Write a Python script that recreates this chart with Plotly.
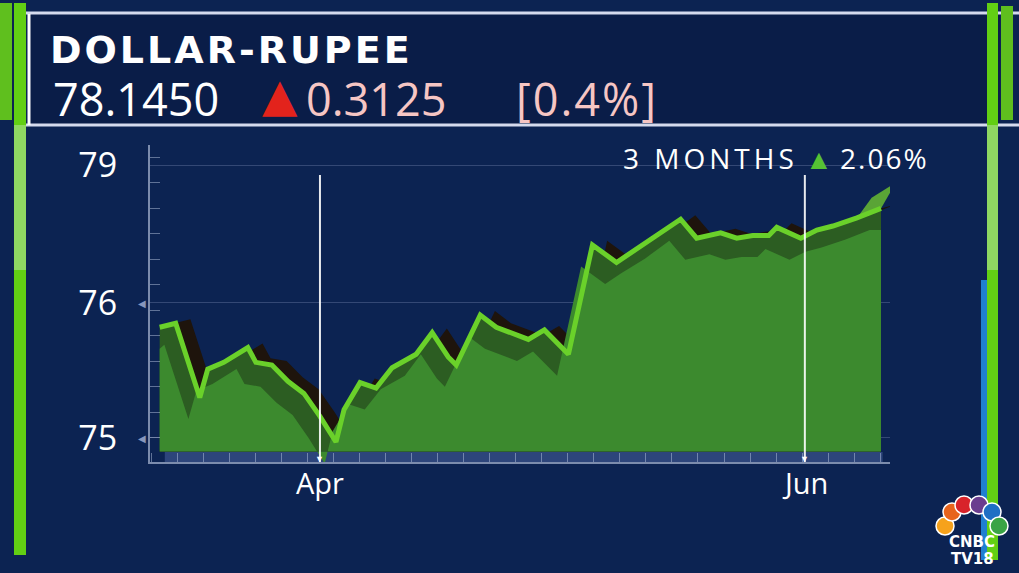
import pandas as pd
import plotly.graph_objects as go

# ---------------------------------------------------------------------------
# Data (read off the broadcast graphic)
# ---------------------------------------------------------------------------
dates = [
    "2022-03-12", "2022-03-14", "2022-03-17", "2022-03-18", "2022-03-20",
    "2022-03-23", "2022-03-24", "2022-03-26", "2022-03-28", "2022-03-30",
    "2022-04-01", "2022-04-03", "2022-04-04", "2022-04-06", "2022-04-08",
    "2022-04-10", "2022-04-13", "2022-04-15", "2022-04-17", "2022-04-18",
    "2022-04-21", "2022-04-23", "2022-04-27", "2022-04-29", "2022-05-02",
    "2022-05-05", "2022-05-08", "2022-05-10", "2022-05-13", "2022-05-16",
    "2022-05-18", "2022-05-21", "2022-05-23", "2022-05-25", "2022-05-27",
    "2022-05-28", "2022-05-31", "2022-06-02", "2022-06-04", "2022-06-07",
    "2022-06-10",
]
rate = [
    75.82, 75.85, 75.30, 75.51, 75.56,
    75.67, 75.56, 75.54, 75.42, 75.33,
    75.16, 74.97, 75.21, 75.41, 75.37,
    75.52, 75.62, 75.78, 75.60, 75.54,
    75.91, 75.82, 75.73, 75.80, 75.62,
    76.43, 76.30, 76.38, 76.49, 76.62,
    76.48, 76.52, 76.48, 76.50, 76.50,
    76.56, 76.48, 76.54, 76.57, 76.63,
    76.70,
]

# axis labels as printed on screen (the graphic's scale is not linear)
y_tickvals = [75, 76, 77.02]
y_ticktext = ["75", "76", "79"]
x_tickvals = ["2022-04-01", "2022-05-31 12:00"]
x_ticktext = ["Apr", "Jun"]

title = "DOLLAR-RUPEE"
last_price = "78.1450"
change = "0.3125"
change_pct = "[0.4%]"
period_label = "3 MONTHS"
period_change = "2.06%"

# ---------------------------------------------------------------------------
# Styling
# ---------------------------------------------------------------------------
BG = "#0c2352"
HEADER_BG = "#0a1d48"
LINE_GREEN = "#6ad12a"
FACE_GREEN = "#3c8a2e"
SHADOW_GREEN = "#2c5d22"
BACK_DARK = "#1e140c"
END_CAP = "#5aa436"
BASE = 74.9

# plot area in pixels
L, R, T, B = 150, 890, 145, 462
W, H = 1019, 573


def px(x, y):
    """pixel position -> paper coordinates of the plot area"""
    return (x - L) / (R - L), (B - y) / (B - T)


x = pd.to_datetime(dates)
back_x = list(x + pd.Timedelta(hours=44))
back_y = [v + 0.03 for v in rate]
shadow_x = list(x - pd.Timedelta(hours=34)) + [x[-1]]
shadow_x[0] = x[0]
shadow_y = [v - 0.16 for v in rate] + [rate[-1] - 0.16]

fig = go.Figure()

# back face of the ribbon, closed onto the last point of the line
fig.add_trace(go.Scatter(
    x=back_x + [x[-1], x[-1], x[0]],
    y=back_y + [rate[-1], BASE, BASE],
    fill="toself", fillcolor=BACK_DARK, mode="lines", line=dict(width=0),
    hoverinfo="skip"))
# lit end cap of the ribbon
fig.add_trace(go.Scatter(
    x=[back_x[-2], back_x[-1], x[-1], x[-2]],
    y=[back_y[-2] + 0.12, back_y[-1] + 0.16, rate[-1], rate[-2]],
    fill="toself", fillcolor=END_CAP, mode="lines", line=dict(width=0),
    hoverinfo="skip"))
# front side (darker green band under the line)
fig.add_trace(go.Scatter(
    x=list(x) + [x[-1], x[0]], y=rate + [BASE, BASE],
    fill="toself", fillcolor=SHADOW_GREEN, mode="lines", line=dict(width=0),
    hoverinfo="skip"))
# lit area
fig.add_trace(go.Scatter(
    x=shadow_x + [x[-1], shadow_x[0]], y=shadow_y + [BASE, BASE],
    fill="toself", fillcolor=FACE_GREEN, mode="lines", line=dict(width=0),
    hoverinfo="skip"))
# the rate line
fig.add_trace(go.Scatter(x=x, y=rate, mode="lines",
                         line=dict(color=LINE_GREEN, width=5),
                         hovertemplate="%{x|%d %b}<br>%{y:.2f}<extra></extra>"))

shapes = []
annotations = []

# header box
x0, y0 = px(28, 125)
x1, y1 = px(1000, 13)
shapes.append(dict(type="rect", xref="paper", yref="paper", x0=x0, x1=x1, y0=y0, y1=y1,
                   fillcolor=HEADER_BG, line=dict(width=0), layer="below"))
for yy in (13, 125):
    a, b_ = px(24, yy)
    c, _ = px(1019, yy)
    shapes.append(dict(type="line", xref="paper", yref="paper", x0=a, x1=c, y0=b_, y1=b_,
                       line=dict(color="rgba(235,240,255,0.9)", width=3)))
a, ya = px(29, 14)
_, yb = px(29, 125)
shapes.append(dict(type="line", xref="paper", yref="paper", x0=a, x1=a, y0=ya, y1=yb,
                   line=dict(color="white", width=3)))

# green side bars
bars = [
    (0, 3, 12, 120, "#5fbf1e"),
    (14, 3, 26, 555, "#62cf14"),
    (14, 125, 26, 270, "#8fd862"),
    (981, 280, 987, 560, "#1f7fd0"),
    (987, 3, 998, 560, "#62cf14"),
    (987, 125, 998, 270, "#8fd862"),
    (1001, 6, 1013, 120, "#5fbf1e"),
]
for bx0, by0, bx1, by1, col in bars:
    a, b_ = px(bx0, by0)
    c, d = px(bx1, by1)
    shapes.append(dict(type="rect", xref="paper", yref="paper", x0=a, x1=c, y0=d, y1=b_,
                       fillcolor=col, line=dict(width=0)))

# lighter strip along the time axis
_, s0 = px(0, 462)
_, s1 = px(0, 452)
shapes.append(dict(type="rect", xref="paper", yref="paper", x0=0.02, x1=0.99, y0=s0, y1=s1,
                   fillcolor="rgba(110,135,200,0.35)", line=dict(width=0), layer="below"))

# month markers and labels
_, vtop = px(0, 175)
_, lab_y = px(0, 482)
for xv, lab in zip(x_tickvals, x_ticktext):
    shapes.append(dict(type="line", xref="x", yref="paper", x0=xv, x1=xv, y0=0, y1=vtop,
                       line=dict(color="rgba(255,255,255,0.9)", width=2)))
    annotations.append(dict(x=xv, y=0, xref="x", yref="paper", yshift=-5, text="▼",
                            showarrow=False, font=dict(size=9, color="white")))
    annotations.append(dict(x=xv, y=lab_y, xref="x", yref="paper", text=lab,
                            showarrow=False, yanchor="middle",
                            font=dict(size=29, color="white", family="Open Sans")))

# y axis line markers
for yv in (75, 76):
    annotations.append(dict(x=0, y=yv, xref="paper", yref="y", xshift=-14, text="◀",
                            showarrow=False, font=dict(size=10, color="#8797bd")))


def text_at(xp, yp, text, size, color="white", family="Open Sans", anchor="left", **kw):
    a, b_ = px(xp, yp)
    annotations.append(dict(x=a, y=b_, xref="paper", yref="paper", text=text,
                            xanchor=anchor, yanchor="middle", showarrow=False,
                            font=dict(size=size, color=color, family=family), **kw))


text_at(48, 50, f"<b><span style='letter-spacing:3px'>{title}</span></b>", 38,
        family="DejaVu Sans")
text_at(51, 98, last_price, 45)
text_at(260, 95, "▲", 46, color="#e3231c", family="DejaVu Sans")
text_at(304, 98, change, 45, color="#f6c6c4")
text_at(514, 98, f"<span style='letter-spacing:2px'>{change_pct}</span>", 45,
        color="#f6c6c4")
text_at(931, 158,
        f"<span style='letter-spacing:4px'>{period_label}</span> "
        f"<span style='color:#56c234'>▲</span> "
        f"<span style='letter-spacing:2px'>{period_change}</span>",
        28, anchor="right")

# CNBC peacock, roughly
feathers = [
    (-27, 6, "#f6a21c"), (-20, -8, "#e8641c"), (-8, -15, "#d8232a"),
    (7, -15, "#6a3d8f"), (20, -8, "#1f6fc4"), (27, 6, "#3aa445"),
]
cx, cy = 972, 520
for dx, dy, col in feathers:
    a, b_ = px(cx + dx - 9, cy + dy - 9)
    c, d = px(cx + dx + 9, cy + dy + 9)
    shapes.append(dict(type="circle", xref="paper", yref="paper", x0=a, x1=c, y0=d, y1=b_,
                       fillcolor=col, line=dict(color="white", width=1.5)))
text_at(972, 542, "<b>CNBC</b>", 15, family="DejaVu Sans", anchor="center")
text_at(972, 559, "<b>TV18</b>", 15, family="DejaVu Sans", anchor="center")

fig.update_layout(
    width=W,
    height=H,
    paper_bgcolor=BG,
    plot_bgcolor=BG,
    showlegend=False,
    margin=dict(l=L, r=W - R, t=T, b=H - B, pad=0),
    shapes=shapes,
    annotations=annotations,
    xaxis=dict(
        range=["2022-03-10 19:00", "2022-06-11 03:00"],
        tickmode="array", tickvals=x_tickvals, ticktext=x_ticktext,
        showticklabels=False,
        showgrid=False, zeroline=False,
        showline=True, linecolor="rgba(200,210,235,0.6)", linewidth=2,
        ticks="",
        minor=dict(ticks="inside", ticklen=9, tickcolor="rgba(200,210,235,0.45)",
                   tick0="2022-03-30 10:00", dtick=3.25 * 86400000, showgrid=False),
    ),
    yaxis=dict(
        range=[74.822, 77.17],
        tickmode="array", tickvals=y_tickvals, ticktext=y_ticktext,
        tickfont=dict(size=34, color="white", family="Open Sans"),
        showgrid=True, gridcolor="rgba(170,185,225,0.25)", gridwidth=1,
        zeroline=False,
        showline=True, linecolor="rgba(200,210,235,0.6)", linewidth=2,
        ticks="", ticklabelstandoff=24,
        minor=dict(ticks="inside", ticklen=10, tickcolor="rgba(200,210,235,0.45)",
                   tick0=75, dtick=0.189, showgrid=False),
    ),
)

fig.write_html("out.html", config={"displayModeBar": False},
               post_script="document.body.style.margin='0';")
